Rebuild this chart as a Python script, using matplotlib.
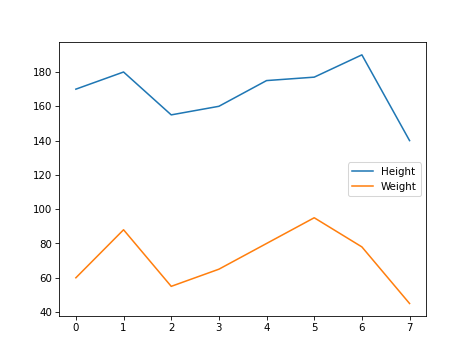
import matplotlib
matplotlib.use('Agg')
import matplotlib.pyplot as plt

## data
x = [0, 1, 2, 3, 4, 5, 6, 7]
height = [170, 180, 155, 160, 175, 177, 190, 140]
weight = [60, 88, 55, 65, 80, 95, 78, 45]

fig = plt.figure(figsize=(6.4, 4.8), dpi=74)
plt.plot(x, height, label='Height')
plt.plot(x, weight, label='Weight')
plt.legend(loc='center right')

plt.savefig('out.png', dpi=74)
